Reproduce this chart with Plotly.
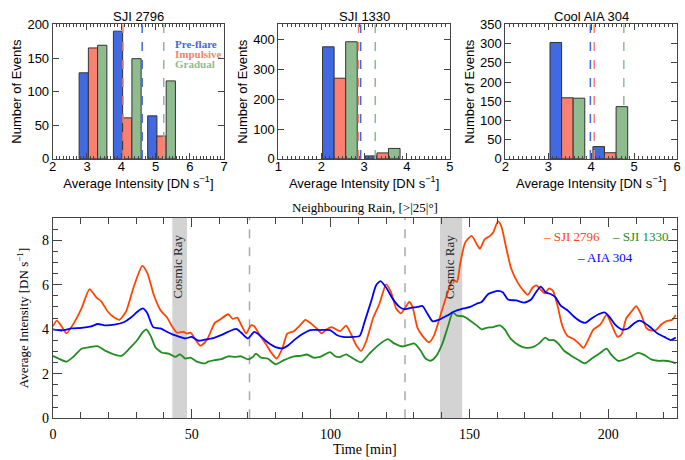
import plotly.graph_objects as go

# ---------------- Histogram data ----------------
panel_titles = ["SJI 2796", "SJI 1330", "Cool AIA 304"]

bins_2796 = [2.77, 3.77, 4.77]
pre_2796 = [128, 190, 64]
imp_2796 = [165, 61, 34]
grad_2796 = [169, 149, 116]
means_2796 = [4.61, 4.05, 5.24]  # pre, imp, grad

bins_1330 = [2.03, 3.03]
pre_1330 = [375, 10]
imp_1330 = [270, 20]
grad_1330 = [392, 35]
means_1330 = [2.92, 2.87, 3.26]

bins_304 = [3.04, 4.04]
pre_304 = [303, 32]
imp_304 = [159, 16]
grad_304 = [158, 136]
means_304 = [3.98, 4.07, 4.76]

hist_xranges = [[2, 7], [1, 5], [2, 6]]
hist_yranges = [[0, 200], [0, 450], [0, 350]]
hist_ydticks = [50, 100, 50]
phase_names = ["Pre-flare", "Impulsive", "Gradual"]

# ---------------- Time series data ----------------
t_2796 = [0, 1.4, 3.1, 4.9, 7.9, 10.3, 13.2, 15.6, 17.4, 19.8, 22.1, 23.9, 26.3, 29.2, 32.2, 34, 36.4,
          38.7, 41.1, 42.9, 44.7, 47, 48.2, 49.6, 51.2, 53, 54.7, 55.9, 58.3, 60.1, 63.1, 64.8, 66.4,
          67.8, 69.6, 71.3, 72.5, 74.3, 76.7, 78.5, 80.6, 82.6, 84.4, 86.8, 89.2, 90.9, 92.7, 95,
          96.8, 98.6, 100.4, 103.4, 105.6, 107.4, 109.3, 111.0, 112.9, 115.3, 117.6, 120.0, 121.8,
          123.6, 125.3, 127.1, 128.3, 129.5, 131.3, 133.1, 135.4, 137.2, 139.6, 142, 144, 145.5,
          146.7, 148.5, 150.8, 152.6, 153.8, 155.5, 157.4, 158.5, 160.3, 161.5, 163.2, 165, 167.4,
          169.2, 171, 172.8, 174.2, 175.7, 177.2, 178.7, 180.1, 181.7, 183.5, 185.3, 187.6, 189.4,
          191.1, 192.9, 194.7, 197.1, 199.4, 201.2, 203.4, 204.8, 206.5, 208.3, 210.1, 211.9, 213.7,
          215.4, 217.2, 219, 220.8, 223.1, 224.3]
i_2796 = [4.13, 4.38, 4.13, 3.81, 4.35, 4.93, 5.8, 5.43, 5.25, 4.78, 4.52, 4.42, 4.78, 5.94, 6.84, 6.52,
          5.51, 4.86, 4.52, 4.13, 3.84, 3.88, 3.8, 3.84, 3.55, 3.26, 3.4, 3.62, 4.28, 4.42, 4.67, 4.46,
          4.52, 4.2, 3.8, 4.17, 4.13, 3.77, 3.33, 2.97, 2.68, 3.12, 3.8, 3.91, 4.2, 4.42, 4.28, 4.03,
          3.81, 3.99, 4.09, 3.91, 4.16, 3.77, 3.26, 3.02, 3.48, 4.49, 5.14, 6.01, 5.65, 4.93, 4.71,
          5.0, 5.22, 5.0, 4.06, 3.7, 3.41, 3.7, 4.64, 5.58, 6.23, 6.12, 6.96, 7.9, 8.19, 7.83, 7.61,
          8.04, 8.19, 8.33, 8.84, 8.62, 7.68, 6.74, 6.09, 5.77, 5.54, 5.87, 5.97, 5.77, 5.61, 5.83,
          5.72, 5.07, 4.13, 3.7, 3.55, 3.36, 3.16, 3.55, 3.99, 4.2, 4.64, 4.2, 3.65, 3.77, 4.49, 4.78,
          5.03, 4.64, 4.06, 3.94, 3.96, 4.2, 4.35, 4.42, 4.64]

t_1330 = [0, 2, 4.9, 7.3, 10.3, 13.2, 16.2, 19.2, 22.1, 24.7, 27.5, 30.4, 32.2, 33.6, 35.2, 36.9, 39.3,
          41.7, 44.1, 45.8, 47.6, 49.6, 51.8, 54.7, 55.9, 58.3, 60.7, 63.1, 65.5, 67.8, 70.2, 72, 73.1,
          74.9, 77.3, 80.2, 83.2, 86.8, 89.2, 91.5, 93.9, 96.2, 99.8, 101.6, 103.4, 105.6, 108.1,
          111, 114, 117, 120.6, 122.9, 125.9, 128.3, 130.1, 132.4, 134.2, 136, 137.8, 140.2, 142.3,
          144, 145.5, 147.9, 150.3, 152.6, 154.4, 156.2, 158.5, 160.9, 162.7, 165, 168, 170.4, 172.8,
          175.1, 177.3, 178.7, 180.4, 182.2, 184, 186.4, 188.8, 191.5, 194.1, 197.1, 199.4, 201.2,
          203.6, 205.9, 208.3, 210.7, 213.1, 215.4, 217.8, 220.2, 222.5, 224.3]
i_1330 = [2.8, 2.68, 2.54, 2.75, 3.12, 3.19, 3.23, 3.01, 2.86, 2.8, 3.12, 3.51, 3.84, 3.99, 3.7, 3.19,
          2.94, 2.9, 2.75, 2.87, 2.68, 2.72, 2.54, 2.46, 2.54, 2.61, 2.65, 2.78, 2.75, 2.78, 2.64, 2.75,
          2.9, 2.72, 2.68, 2.42, 2.61, 2.78, 2.8, 2.86, 2.72, 2.75, 2.97, 2.78, 2.75, 2.87, 2.68, 2.51,
          2.9, 3.26, 3.55, 3.36, 3.22, 3.3, 3.36, 3.04, 2.68, 2.58, 2.75, 3.33, 4.13, 4.75, 4.61, 4.57,
          4.38, 4.17, 3.99, 4.06, 4.09, 4.17, 3.99, 3.55, 3.26, 3.16, 3.19, 3.36, 3.62, 3.51, 3.51,
          3.33, 3.04, 2.83, 2.65, 2.46, 2.68, 2.93, 3.12, 2.83, 2.57, 2.64, 2.78, 2.93, 2.83, 2.64,
          2.58, 2.58, 2.54, 2.46]

t_304 = [0, 3.1, 6.7, 10.3, 13.8, 16.2, 18.6, 22.1, 25.7, 28.1, 30.4, 32.4, 34, 36.1, 38.7, 41.1, 43.5,
         45.8, 47.6, 50, 52.4, 55.9, 58.3, 60.7, 63.1, 66, 67.8, 70.2, 72.5, 74.3, 77.3, 80.2, 82.6,
         84.9, 87.3, 89.7, 92.7, 96.2, 99.8, 102.2, 104.5, 108.1, 110.5, 112.3, 114.7, 116.4, 118,
         120, 122.4, 124.8, 126.5, 128.9, 131.3, 133.1, 134.8, 136.8, 139, 142, 144.3, 147.9, 150.3,
         152.6, 154.4, 156.8, 160.3, 162.1, 163.9, 166.9, 169.8, 172.2, 173.9, 175.7, 177.5, 179.2,
         181, 182.8, 185.2, 187.6, 190, 191.7, 194.1, 196.5, 198.7, 200.3, 202.5, 204.8, 207.1,
         209.5, 211.3, 213.1, 215.4, 217.8, 220.2, 222.5, 224.3]
i_304 = [3.99, 3.94, 4.03, 4.06, 4.13, 4.23, 4.17, 4.2, 4.32, 4.52, 4.78, 4.93, 4.71, 4.09, 4.03, 3.88,
         3.74, 3.65, 3.58, 3.65, 3.48, 3.55, 3.62, 3.74, 3.88, 4.01, 3.84, 3.58, 3.88, 3.74, 3.41, 3.19,
         3.14, 3.29, 3.55, 3.77, 3.96, 3.96, 3.96, 3.74, 3.65, 3.65, 3.7, 4.35, 5.29, 5.97, 6.16, 5.87,
         5.36, 5.0, 4.9, 4.96, 5.0, 5.04, 4.71, 4.35, 4.42, 4.61, 4.78, 4.93, 5.0, 5.14, 5.22, 5.58,
         5.72, 5.65, 5.33, 5.29, 5.19, 5.33, 5.65, 5.91, 5.65, 5.58, 5.43, 5.07, 4.86, 4.57, 4.35,
         4.28, 4.49, 4.67, 4.75, 4.57, 4.2, 3.99, 4.03, 4.28, 4.38, 4.28, 4.06, 3.8, 3.65, 3.51, 3.62]

series_names = ["SJI 2796", "SJI 1330", "AIA 304"]
cosmic_ray_bands = [[43.0, 48.3], [139.4, 147.4]]
event_lines = [70.8, 126.8]

# ---------------- Styles ----------------
W, H = 685, 460
bar_colors = ["#4169E1", "#FA8072", "#8FBC8F"]
line_colors = {"SJI 2796": "#FF4500", "SJI 1330": "#228B22", "AIA 304": "#0000FF"}
SANS = "Liberation Sans, Arial, sans-serif"
SERIF = "Liberation Serif, Times New Roman, serif"

def px_x(p):
    return p / W

def px_y(p):
    return 1 - p / H

hist_domains_x = [[px_x(49.3), px_x(222.7)], [px_x(277.7), px_x(451)], [px_x(507.3), px_x(681)]]
hist_domain_y = [px_y(157), px_y(18)]
bottom_domain_x = [px_x(49.5), px_x(680.5)]
bottom_domain_y = [px_y(425), px_y(218)]

fig = go.Figure()
shapes = []
annotations = []
layout_axes = {}

hist_data = [
    (bins_2796, [pre_2796, imp_2796, grad_2796], means_2796),
    (bins_1330, [pre_1330, imp_1330, grad_1330], means_1330),
    (bins_304, [pre_304, imp_304, grad_304], means_304),
]
bw = 0.27

for p, (bins, vals, means) in enumerate(hist_data):
    ax = "" if p == 0 else str(p + 1)
    for k in range(3):
        fig.add_trace(go.Bar(
            x=[b + k * bw for b in bins], y=vals[k], width=bw, offset=0,
            marker=dict(color=bar_colors[k], line=dict(color="#333333", width=1)),
            xaxis="x" + ax, yaxis="y" + ax, showlegend=False, name=phase_names[k]))
    for k in range(3):
        shapes.append(dict(type="line", xref="x" + ax, yref="y" + ax + " domain",
                           x0=means[k], x1=means[k], y0=0, y1=1,
                           line=dict(color=bar_colors[k], width=1.5, dash="dash"), layer="above"))
    common = dict(showline=True, linecolor="#444444", linewidth=1, mirror="allticks",
                  ticks="inside", tickcolor="#444444", showgrid=False, zeroline=False,
                  tickfont=dict(family=SANS, size=13, color="black"))
    layout_axes["xaxis" + ax] = dict(
        domain=hist_domains_x[p], range=hist_xranges[p], anchor="y" + ax, dtick=1, ticklen=6,
        ticklabelstandoff=-4,
        minor=dict(dtick=0.1, ticklen=3, ticks="inside", tickcolor="#444444"),
        title=dict(text="Average Intensity [DN s<sup>−1</sup>]", standoff=4,
                   font=dict(family=SANS, size=13, color="black")), **common)
    layout_axes["yaxis" + ax] = dict(
        domain=hist_domain_y, range=hist_yranges[p], anchor="x" + ax, dtick=hist_ydticks[p],
        ticklen=6,
        title=dict(text="Number of Events", standoff=2, font=dict(family=SANS, size=13, color="black")),
        **common)
    annotations.append(dict(text=panel_titles[p], xref="paper", yref="paper",
                            x=sum(hist_domains_x[p]) / 2, y=px_y(10), xanchor="center",
                            yanchor="middle", showarrow=False,
                            font=dict(family=SANS, size=13, color="black")))

# Histogram legend (first panel)
for k in range(3):
    annotations.append(dict(text="<b>" + phase_names[k] + "</b>", xref="paper", yref="paper",
                            x=px_x(171), y=px_y(38 + k * 10.7), xanchor="left", yanchor="middle",
                            showarrow=False, font=dict(family=SERIF, size=11, color=bar_colors[k])))

# ---------------- Bottom panel ----------------
for name, t, v in [("SJI 2796", t_2796, i_2796), ("SJI 1330", t_1330, i_1330), ("AIA 304", t_304, i_304)]:
    fig.add_trace(go.Scatter(x=t, y=v, mode="lines", line=dict(color=line_colors[name], width=1.8,
                             shape="spline", smoothing=0.6),
                             xaxis="x4", yaxis="y4", showlegend=False, name=name))

for (a, b) in cosmic_ray_bands:
    shapes.append(dict(type="rect", xref="x4", yref="y4 domain", x0=a, x1=b, y0=0, y1=1,
                       fillcolor="#D3D3D3", line=dict(width=0), layer="below"))
    annotations.append(dict(text="Cosmic Ray", xref="x4", yref="y4", x=(a + b) / 2 - 0.6, y=6.8,
                            textangle=-90, showarrow=False,
                            font=dict(family=SERIF, size=13, color="#222222")))
for t0 in event_lines:
    shapes.append(dict(type="line", xref="x4", yref="y4 domain", x0=t0, x1=t0, y0=0, y1=1,
                       line=dict(color="#AAAAAA", width=1.5, dash="dash"), layer="below"))

bcommon = dict(showline=True, linecolor="#444444", linewidth=1, mirror="allticks",
               ticks="inside", tickcolor="#444444", showgrid=False, zeroline=False,
               tickfont=dict(family=SERIF, size=14, color="black"))
layout_axes["xaxis4"] = dict(domain=bottom_domain_x, range=[0, 224.6], anchor="y4", dtick=50,
                             ticklen=9, ticklabelstandoff=3,
                             minor=dict(dtick=10, ticklen=6, ticks="inside", tickcolor="#444444"),
                             title=dict(text="Time [min]", standoff=2,
                                        font=dict(family=SERIF, size=14, color="black")), **bcommon)
layout_axes["yaxis4"] = dict(domain=bottom_domain_y, range=[0, 9], anchor="x4", dtick=2, ticklen=9,
                             minor=dict(dtick=0.5, ticklen=5, ticks="inside", tickcolor="#444444"),
                             title=dict(text="Average Intensity [DN s<sup>−1</sup>]", standoff=10,
                                        font=dict(family=SERIF, size=13, color="black")), **bcommon)

annotations.append(dict(text="Neighbouring Rain, [&gt;|25|°]", xref="paper", yref="paper",
                        x=sum(bottom_domain_x) / 2, y=px_y(207), xanchor="center", yanchor="middle",
                        showarrow=False, font=dict(family=SERIF, size=13, color="black")))

legend_pos = {"SJI 2796": (543, 237), "SJI 1330": (613, 237), "AIA 304": (578, 259)}
for name in series_names:
    lx, ly = legend_pos[name]
    annotations.append(dict(text="– " + name, xref="paper", yref="paper", x=px_x(lx), y=px_y(ly),
                            xanchor="left", yanchor="middle", showarrow=False,
                            font=dict(family=SERIF, size=13, color=line_colors[name])))

fig.update_layout(width=W, height=H, margin=dict(l=0, r=0, t=0, b=0),
                  paper_bgcolor="white", plot_bgcolor="white", barmode="overlay",
                  shapes=shapes, annotations=annotations, **layout_axes)

fig.write_html("out.html")
